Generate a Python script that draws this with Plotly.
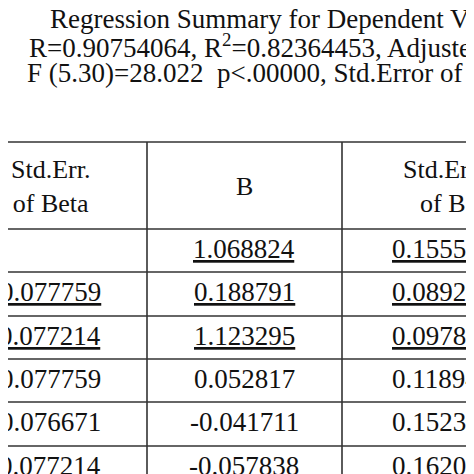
import plotly.graph_objects as go

title_lines = ["Regression Summary for Dependent Variable",
               "R=0.90754064, R<sup>2</sup>=0.82364453, Adjusted R<sup>2</sup>=0.79425195",
               "F (5.30)=28.022  p<.00000, Std.Error of estimate"]
headers = ["Std.Err.<br>of Beta", "B", "Std.Err.<br>of B"]
se_beta = ["", "0.077759", "0.077214", "0.077759", "0.076671", "0.077214"]
b_vals = ["1.068824", "0.188791", "1.123295", "0.052817", "-0.041711", "-0.057838"]
se_b = ["0.155540", "0.089200", "0.097800", "0.118940", "0.152340", "0.162040"]
underlined = [True, True, True, False, False, False]

W = H = 474
OFF = 8  # page body margin
row_lines = [142, 229, 272, 316, 359, 402, 446]
col_lines = [147, 342]
col_centers = [50, 244, 442]
FONT = "Liberation Serif, Times New Roman, serif"

fig = go.Figure()
shapes = []
for y in row_lines:
    shapes.append(dict(type="line", x0=-10, x1=W + 30, y0=y, y1=y, xref="x", yref="y",
                       line=dict(color="#333", width=1.6)))
for x in col_lines:
    shapes.append(dict(type="line", x0=x, x1=x, y0=row_lines[0], y1=H + 30, xref="x", yref="y",
                       line=dict(color="#333", width=1.6)))

ann = []
title_x = [48, 27, 25]
for i, t in enumerate(title_lines):
    ann.append(dict(x=title_x[i], y=19 + 27 * i, text=t, xanchor="left", yanchor="middle",
                    showarrow=False, font=dict(family=FONT, size=27, color="#111")))
for c, h in zip(col_centers, headers):
    ann.append(dict(x=c, y=186, text=h, showarrow=False, xanchor="center", yanchor="middle",
                    font=dict(family=FONT, size=26, color="#111")))

def u(t, on):
    return f"<span style='text-decoration:underline'>{t}</span>" if on else t

for r in range(len(b_vals)):
    top = row_lines[r + 1]
    bot = row_lines[r + 2] if r + 2 < len(row_lines) else top + 44
    yc = (top + bot) / 2 - 2
    for c, col in zip(col_centers, [se_beta, b_vals, se_b]):
        if not col[r]:
            continue
        ann.append(dict(x=c, y=yc, text=u(col[r], underlined[r]), showarrow=False,
                        xanchor="center", yanchor="middle",
                        font=dict(family=FONT, size=27, color="#111")))

fig.update_layout(width=W, height=H, margin=dict(l=0, r=0, t=0, b=0),
                  paper_bgcolor="white", plot_bgcolor="white",
                  xaxis=dict(range=[OFF, W + OFF], visible=False),
                  yaxis=dict(range=[H + OFF, OFF], visible=False),
                  shapes=shapes, annotations=ann, showlegend=False)
fig.write_html("out.html")
